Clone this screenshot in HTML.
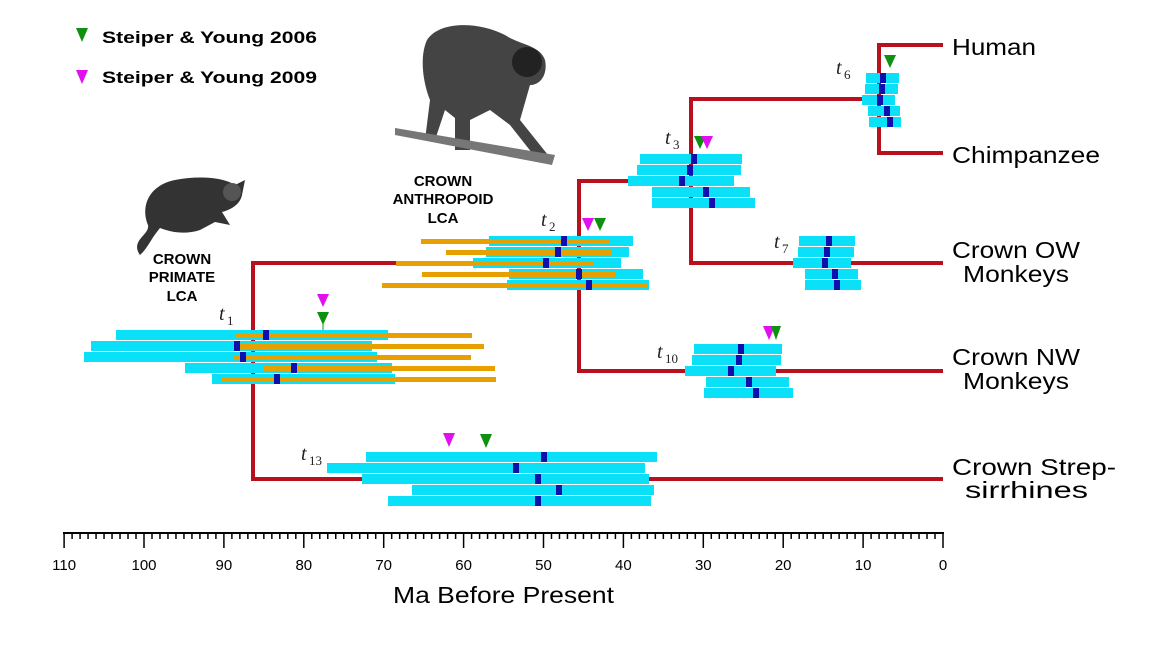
<!DOCTYPE html>
<html><head><meta charset="utf-8"><style>
html,body{margin:0;padding:0;background:#fff;}
svg{display:block;}
.lab{font-family:"Liberation Sans",sans-serif;font-size:23px;fill:#000;}
.cap{font-family:"Liberation Sans",sans-serif;font-size:15px;font-weight:bold;fill:#000;}
.leg{font-family:"Liberation Sans",sans-serif;font-size:17px;font-weight:bold;fill:#000;}
.t{font-family:"Liberation Serif",serif;font-style:italic;font-size:20px;fill:#222;}
.ts{font-family:"Liberation Serif",serif;font-size:13px;fill:#222;}
.tick{font-family:"Liberation Sans",sans-serif;font-size:15px;fill:#000;}
</style></head><body>
<svg width="1152" height="648" viewBox="0 0 1152 648" xmlns="http://www.w3.org/2000/svg">
<rect width="1152" height="648" fill="#fff"/>
<g stroke="#b8101c" stroke-width="4" fill="none">
<path d="M943,45 H879 V153 H943"/>
<path d="M879,99 H691 V263 H943"/>
<path d="M691,181 H579 V371 H943"/>
<path d="M579,263 H253 V479 H943"/>
</g>
<g fill="#333">
<path d="M140,255 C130,240 150,235 148,225 C140,205 150,185 175,180 C200,175 225,178 235,185 L245,180 L242,195 C240,205 230,210 222,212 L230,225 L215,222 L200,230 C185,235 170,232 160,228 C150,240 148,248 140,255Z"/>
<circle cx="232" cy="192" r="9" fill="#555"/>
<path d="M427,40 C440,20 480,22 505,35 C520,45 540,45 545,60 C548,75 540,85 530,85 L520,120 L548,155 L536,158 L510,125 L490,110 L470,120 L470,150 L455,150 L455,118 L445,110 L435,140 L425,140 L430,100 C422,80 420,55 427,40Z" fill="#444"/>
<path d="M395,128 L555,155 L552,165 L395,135Z" fill="#777"/>
<circle cx="527" cy="62" r="15" fill="#222"/>
</g>
<text class="cap" x="182" y="264" text-anchor="middle">CROWN</text>
<text class="cap" x="182" y="282" text-anchor="middle">PRIMATE</text>
<text class="cap" x="182" y="301" text-anchor="middle">LCA</text>
<text class="cap" x="443" y="186" text-anchor="middle">CROWN</text>
<text class="cap" x="443" y="204" text-anchor="middle">ANTHROPOID</text>
<text class="cap" x="443" y="223" text-anchor="middle">LCA</text>
<g>
<rect x="116" y="330" width="272" height="10" fill="#0ae0f8"/><rect x="236" y="333" width="236" height="5" fill="#e8a000"/><rect x="263" y="330" width="6" height="10" fill="#1010b0"/>
<rect x="91" y="341" width="281" height="10" fill="#0ae0f8"/><rect x="239" y="344" width="245" height="5" fill="#e8a000"/><rect x="234" y="341" width="6" height="10" fill="#1010b0"/>
<rect x="84" y="352" width="293" height="10" fill="#0ae0f8"/><rect x="233" y="355" width="238" height="5" fill="#e8a000"/><rect x="240" y="352" width="6" height="10" fill="#1010b0"/>
<rect x="185" y="363" width="207" height="10" fill="#0ae0f8"/><rect x="263" y="366" width="232" height="5" fill="#e8a000"/><rect x="291" y="363" width="6" height="10" fill="#1010b0"/>
<rect x="212" y="374" width="183" height="10" fill="#0ae0f8"/><rect x="222" y="377" width="274" height="5" fill="#e8a000"/><rect x="274" y="374" width="6" height="10" fill="#1010b0"/>
</g>
<g>
<rect x="489" y="236" width="144" height="10" fill="#0ae0f8"/><rect x="421" y="239" width="188" height="5" fill="#e8a000"/><rect x="561" y="236" width="6" height="10" fill="#1010b0"/>
<rect x="486" y="247" width="143" height="10" fill="#0ae0f8"/><rect x="446" y="250" width="165" height="5" fill="#e8a000"/><rect x="555" y="247" width="6" height="10" fill="#1010b0"/>
<rect x="473" y="258" width="148" height="10" fill="#0ae0f8"/><rect x="396" y="261" width="197" height="5" fill="#e8a000"/><rect x="543" y="258" width="6" height="10" fill="#1010b0"/>
<rect x="509" y="269" width="134" height="10" fill="#0ae0f8"/><rect x="422" y="272" width="193" height="5" fill="#e8a000"/><rect x="576" y="269" width="6" height="10" fill="#1010b0"/>
<rect x="507" y="280" width="142" height="10" fill="#0ae0f8"/><rect x="382" y="283" width="265" height="5" fill="#e8a000"/><rect x="586" y="280" width="6" height="10" fill="#1010b0"/>
</g>
<g>
<rect x="640" y="154" width="102" height="10" fill="#0ae0f8"/><rect x="691" y="154" width="6" height="10" fill="#1010b0"/>
<rect x="637" y="165" width="104" height="10" fill="#0ae0f8"/><rect x="687" y="165" width="6" height="10" fill="#1010b0"/>
<rect x="628" y="176" width="106" height="10" fill="#0ae0f8"/><rect x="679" y="176" width="6" height="10" fill="#1010b0"/>
<rect x="652" y="187" width="98" height="10" fill="#0ae0f8"/><rect x="703" y="187" width="6" height="10" fill="#1010b0"/>
<rect x="652" y="198" width="103" height="10" fill="#0ae0f8"/><rect x="709" y="198" width="6" height="10" fill="#1010b0"/>
</g>
<g>
<rect x="866" y="73" width="33" height="10" fill="#0ae0f8"/><rect x="880" y="73" width="6" height="10" fill="#1010b0"/>
<rect x="865" y="84" width="33" height="10" fill="#0ae0f8"/><rect x="879" y="84" width="6" height="10" fill="#1010b0"/>
<rect x="862" y="95" width="33" height="10" fill="#0ae0f8"/><rect x="877" y="95" width="6" height="10" fill="#1010b0"/>
<rect x="868" y="106" width="32" height="10" fill="#0ae0f8"/><rect x="884" y="106" width="6" height="10" fill="#1010b0"/>
<rect x="869" y="117" width="32" height="10" fill="#0ae0f8"/><rect x="887" y="117" width="6" height="10" fill="#1010b0"/>
</g>
<g>
<rect x="799" y="236" width="56" height="10" fill="#0ae0f8"/><rect x="826" y="236" width="6" height="10" fill="#1010b0"/>
<rect x="798" y="247" width="56" height="10" fill="#0ae0f8"/><rect x="824" y="247" width="6" height="10" fill="#1010b0"/>
<rect x="793" y="258" width="58" height="10" fill="#0ae0f8"/><rect x="822" y="258" width="6" height="10" fill="#1010b0"/>
<rect x="805" y="269" width="53" height="10" fill="#0ae0f8"/><rect x="832" y="269" width="6" height="10" fill="#1010b0"/>
<rect x="805" y="280" width="56" height="10" fill="#0ae0f8"/><rect x="834" y="280" width="6" height="10" fill="#1010b0"/>
</g>
<g>
<rect x="694" y="344" width="88" height="10" fill="#0ae0f8"/><rect x="738" y="344" width="6" height="10" fill="#1010b0"/>
<rect x="692" y="355" width="89" height="10" fill="#0ae0f8"/><rect x="736" y="355" width="6" height="10" fill="#1010b0"/>
<rect x="685" y="366" width="91" height="10" fill="#0ae0f8"/><rect x="728" y="366" width="6" height="10" fill="#1010b0"/>
<rect x="706" y="377" width="83" height="10" fill="#0ae0f8"/><rect x="746" y="377" width="6" height="10" fill="#1010b0"/>
<rect x="704" y="388" width="89" height="10" fill="#0ae0f8"/><rect x="753" y="388" width="6" height="10" fill="#1010b0"/>
</g>
<g>
<rect x="366" y="452" width="291" height="10" fill="#0ae0f8"/><rect x="541" y="452" width="6" height="10" fill="#1010b0"/>
<rect x="327" y="463" width="318" height="10" fill="#0ae0f8"/><rect x="513" y="463" width="6" height="10" fill="#1010b0"/>
<rect x="362" y="474" width="287" height="10" fill="#0ae0f8"/><rect x="535" y="474" width="6" height="10" fill="#1010b0"/>
<rect x="412" y="485" width="242" height="10" fill="#0ae0f8"/><rect x="556" y="485" width="6" height="10" fill="#1010b0"/>
<rect x="388" y="496" width="263" height="10" fill="#0ae0f8"/><rect x="535" y="496" width="6" height="10" fill="#1010b0"/>
</g>
<g>
<path d="M317,294 H329 L323,307Z" fill="#e010f0"/>
<path d="M317,312 H329 L323,325Z" fill="#109010"/><line x1="323" y1="324" x2="323" y2="330" stroke="#109010"/>
<path d="M582,218 H594 L588,231Z" fill="#e010f0"/>
<path d="M594,218 H606 L600,231Z" fill="#109010"/>
<path d="M694,136 H706 L700,149Z" fill="#109010"/>
<path d="M701,136 H713 L707,149Z" fill="#e010f0"/>
<path d="M884,55 H896 L890,68Z" fill="#109010"/>
<path d="M763,326 H775 L769,340Z" fill="#e010f0"/>
<path d="M771,326 H781 L776,340Z" fill="#109010"/>
<path d="M443,433 H455 L449,447Z" fill="#e010f0"/>
<path d="M480,434 H492 L486,448Z" fill="#109010"/>
<path d="M76,28 H88 L82,42Z" fill="#109010"/>
<path d="M76,70 H88 L82,84Z" fill="#e010f0"/>
</g>
<text class="leg" x="102" y="43" textLength="215" lengthAdjust="spacingAndGlyphs">Steiper &amp; Young 2006</text>
<text class="leg" x="102" y="83" textLength="215" lengthAdjust="spacingAndGlyphs">Steiper &amp; Young 2009</text>
<text class="t" x="219" y="320">t</text><text class="ts" x="227" y="325">1</text>
<text class="t" x="541" y="226">t</text><text class="ts" x="549" y="231">2</text>
<text class="t" x="665" y="144">t</text><text class="ts" x="673" y="149">3</text>
<text class="t" x="836" y="74">t</text><text class="ts" x="844" y="79">6</text>
<text class="t" x="774" y="248">t</text><text class="ts" x="782" y="253">7</text>
<text class="t" x="657" y="358">t</text><text class="ts" x="665" y="363">10</text>
<text class="t" x="301" y="460">t</text><text class="ts" x="309" y="465">13</text>
<text class="lab" x="952" y="55" textLength="84" lengthAdjust="spacingAndGlyphs">Human</text>
<text class="lab" x="952" y="163" textLength="148" lengthAdjust="spacingAndGlyphs">Chimpanzee</text>
<text class="lab" x="952" y="258" textLength="128" lengthAdjust="spacingAndGlyphs">Crown OW</text>
<text class="lab" x="963" y="282" textLength="106" lengthAdjust="spacingAndGlyphs">Monkeys</text>
<text class="lab" x="952" y="365" textLength="128" lengthAdjust="spacingAndGlyphs">Crown NW</text>
<text class="lab" x="963" y="389" textLength="106" lengthAdjust="spacingAndGlyphs">Monkeys</text>
<text class="lab" x="952" y="475" textLength="164" lengthAdjust="spacingAndGlyphs">Crown Strep-</text>
<text class="lab" x="965" y="498" textLength="123" lengthAdjust="spacingAndGlyphs">sirrhines</text>
<g stroke="#000" stroke-width="2">
<line x1="63" y1="533" x2="944" y2="533"/>
</g>
<g id="ticks" stroke="#000" stroke-width="1.5"></g>
<g id="labs"></g>
<text x="393" y="603" textLength="221" lengthAdjust="spacingAndGlyphs" style="font-family:'Liberation Sans',sans-serif;font-size:23px;">Ma Before Present</text>
<script>
var g=document.getElementById('ticks'),l=document.getElementById('labs'),ns='http://www.w3.org/2000/svg';
for(var i=0;i<=110;i++){var x=943-i*7.99;var ln=document.createElementNS(ns,'line');ln.setAttribute('x1',x);ln.setAttribute('x2',x);ln.setAttribute('y1',533);ln.setAttribute('y2',i%10==0?548:539);g.appendChild(ln);
if(i%10==0){var t=document.createElementNS(ns,'text');t.setAttribute('x',x);t.setAttribute('y',570);t.setAttribute('text-anchor','middle');t.setAttribute('class','tick');t.textContent=i;l.appendChild(t);}}
</script>
</svg>
</body></html>
